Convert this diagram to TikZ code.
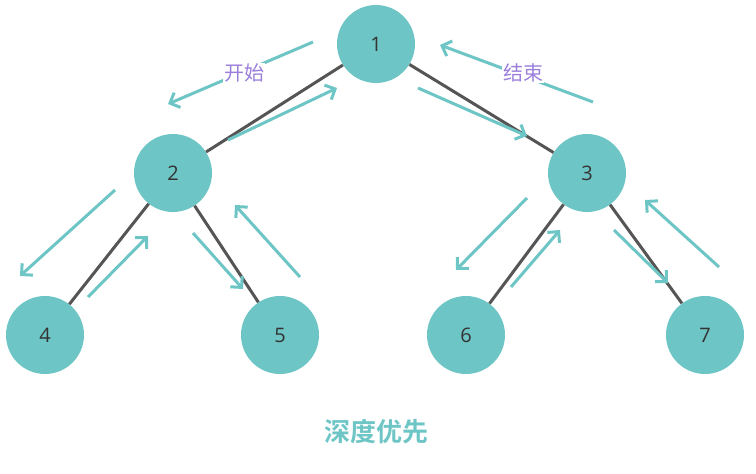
\documentclass[tikz,border=0pt]{standalone}
\usepackage{fontspec}
\setmainfont{Open Sans}
\newfontfamily\cjk{Noto Sans CJK SC}
\newfontfamily\cjkb{Noto Sans CJK SC Bold}
\usetikzlibrary{arrows.meta}
\definecolor{teal1}{HTML}{6EC5C5}
\definecolor{purp}{HTML}{9B7FDD}
\definecolor{edg}{HTML}{555555}
\begin{document}
\begin{tikzpicture}[x=1pt,y=-1pt,
  vert/.style={circle,fill=teal1,minimum size=78pt,inner sep=0pt,font=\fontsize{20}{24}\selectfont,text=black!80},
  tedge/.style={draw=edg,line width=3pt},
  walk/.style={draw=teal1,line width=3pt,-{Straight Barb[length=8pt,width=16pt,line width=3pt]}},
  lbl/.style={fill=white,inner sep=1pt,text=purp,font=\cjk\fontsize{20}{24}\selectfont}]
\useasboundingbox (0,0) rectangle (756,474);
\node[vert] (n1) at (376,44) {1};
\node[vert] (n2) at (173,173) {2};
\node[vert] (n3) at (587,173) {3};
\node[vert] (n4) at (45,335) {4};
\node[vert] (n5) at (280,335) {5};
\node[vert] (n6) at (466,335) {6};
\node[vert] (n7) at (705,335) {7};
\foreach \a/\b in {n1/n2,n1/n3,n2/n4,n2/n5,n3/n6,n3/n7} \draw[tedge] (\a) -- (\b);
\coordinate (a1s) at (313,42); \coordinate (a1e) at (168,104);
\coordinate (a2s) at (228,140); \coordinate (a2e) at (337,88);
\coordinate (a3s) at (418,88); \coordinate (a3e) at (527,136);
\coordinate (a4s) at (593,102); \coordinate (a4e) at (440,45);
\coordinate (b1s) at (115,190); \coordinate (b1e) at (20,276);
\coordinate (b2s) at (88,297); \coordinate (b2e) at (148,236);
\coordinate (b3s) at (193,233); \coordinate (b3e) at (243,289);
\coordinate (b4s) at (300,277); \coordinate (b4e) at (235,205);
\coordinate (c1s) at (527,198); \coordinate (c1e) at (456,270);
\coordinate (c2s) at (511,287); \coordinate (c2e) at (560,230);
\coordinate (c3s) at (614,230); \coordinate (c3e) at (668,283);
\coordinate (c4s) at (719,267); \coordinate (c4e) at (645,200);
\foreach \p in {a1,a2,a3,a4,b1,b2,b3,b4,c1,c2,c3,c4} \draw[walk] (\p s) -- (\p e);
\node[lbl] (ls) at (244,73) {开始};
\node[lbl] (le) at (523,73) {结束};
\node[text=teal1,font=\cjkb\fontsize{26}{30}\selectfont] (title) at (376,432) {深度优先};
\end{tikzpicture}
\end{document}
